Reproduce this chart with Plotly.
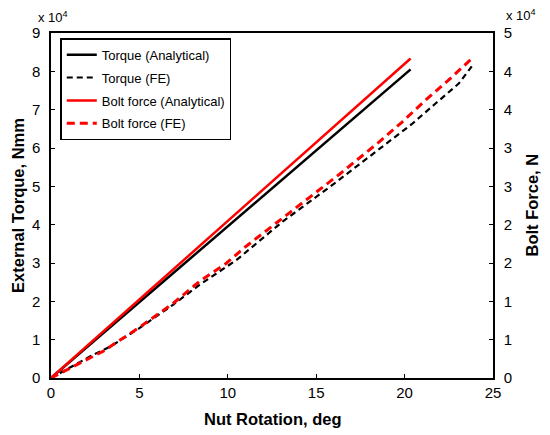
import plotly.graph_objects as go

# values in units of 10^4 (torque Nmm on left axis, bolt force N on right axis)
rot_analytical = [0, 20.34]
torque_analytical = [0, 8.05]
bolt_analytical = [0, 4.63]

rot_torque_fe = [0, 1.0, 2.2, 3.35, 5.0, 6.9, 8.4, 10.5, 13.1, 15.9, 19.1, 20.4, 21.75, 23.06, 23.8]
torque_fe = [0, 0.25, 0.56, 0.82, 1.30, 1.91, 2.43, 3.08, 4.08, 5.03, 6.15, 6.62, 7.16, 7.68, 8.13]

rot_bolt_fe = [0, 1.0, 2.96, 5.03, 6.9, 8.4, 9.9, 11.04, 13.5, 16.3, 18.6, 19.86, 21.2, 22.5, 23.8]
bolt_fe = [0, 0.13, 0.39, 0.74, 1.08, 1.40, 1.66, 1.91, 2.40, 2.95, 3.43, 3.71, 4.03, 4.32, 4.63]

FONT = "Liberation Sans, Arial, sans-serif"

fig = go.Figure()

fig.add_trace(go.Scatter(
    x=rot_analytical, y=torque_analytical, mode="lines",
    name="Torque (Analytical)", legendgroup="a",
    line=dict(color="black", width=2.5),
))
fig.add_trace(go.Scatter(
    x=rot_torque_fe, y=torque_fe, mode="lines",
    name="Torque (FE)", legendgroup="b",
    line=dict(color="black", width=2.2, dash="6px,4px"),
))
fig.add_trace(go.Scatter(
    x=rot_analytical, y=bolt_analytical, mode="lines", yaxis="y2",
    name="Bolt force (Analytical)", legendgroup="c",
    line=dict(color="#ff0000", width=2.5),
))
fig.add_trace(go.Scatter(
    x=rot_bolt_fe, y=bolt_fe, mode="lines", yaxis="y2",
    name="Bolt force (FE)", legendgroup="d",
    line=dict(color="#ff0000", width=3, dash="8px,5px"),
))

axis_common = dict(
    showgrid=False, zeroline=False, automargin=False,
    showline=True, linecolor="black", linewidth=1.5,
    ticks="inside", ticklen=4, tickcolor="black", tickwidth=1,
    tickfont=dict(family=FONT, size=15, color="black"),
)

title_font = dict(family=FONT, size=16.5, color="black")
note_font = dict(family=FONT, size=13, color="black")

# the page adds an 8px body margin, so the figure is drawn 8px smaller
fig.update_layout(
    width=542, height=427,
    margin=dict(l=43, r=57, t=25, b=57),
    plot_bgcolor="white", paper_bgcolor="white",
    font=dict(family=FONT, color="black"),
    xaxis=dict(**axis_common, range=[0, 25], dtick=5, mirror=True),
    yaxis=dict(**axis_common, range=[0, 9], dtick=1, ticklabelstandoff=6),
    yaxis2=dict(
        **axis_common, range=[0, 5], dtick=5 / 9, tick0=0, tickformat=".0f",
        overlaying="y", side="right", ticklabelstandoff=6,
    ),
    legend=dict(
        x=0.021, y=0.985, xanchor="left", yanchor="top",
        bordercolor="black", borderwidth=1.5, bgcolor="white",
        font=dict(family=FONT, size=13, color="black"),
        tracegroupgap=3,
    ),
    showlegend=True,
    annotations=[
        dict(text="x 10<sup>4</sup>", xref="paper", yref="paper",
             x=-0.033, y=1.017, xanchor="left", yanchor="bottom", showarrow=False,
             font=note_font),
        dict(text="x 10<sup>4</sup>", xref="paper", yref="paper",
             x=1.025, y=1.022, xanchor="left", yanchor="bottom", showarrow=False,
             font=note_font),
        dict(text="<b>Nut Rotation, deg</b>", xref="paper", yref="paper",
             x=0.5, y=-0.118, xanchor="center", yanchor="middle", showarrow=False,
             font=title_font),
        dict(text="<b>External Torque, Nmm</b>", xref="paper", yref="paper",
             x=-0.076, y=0.5, xanchor="center", yanchor="middle", showarrow=False,
             textangle=-90, font=title_font),
        dict(text="<b>Bolt Force, N</b>", xref="paper", yref="paper",
             x=1.086, y=0.5, xanchor="center", yanchor="middle", showarrow=False,
             textangle=-90, font=title_font),
    ],
)

fig.write_html("out.html")
